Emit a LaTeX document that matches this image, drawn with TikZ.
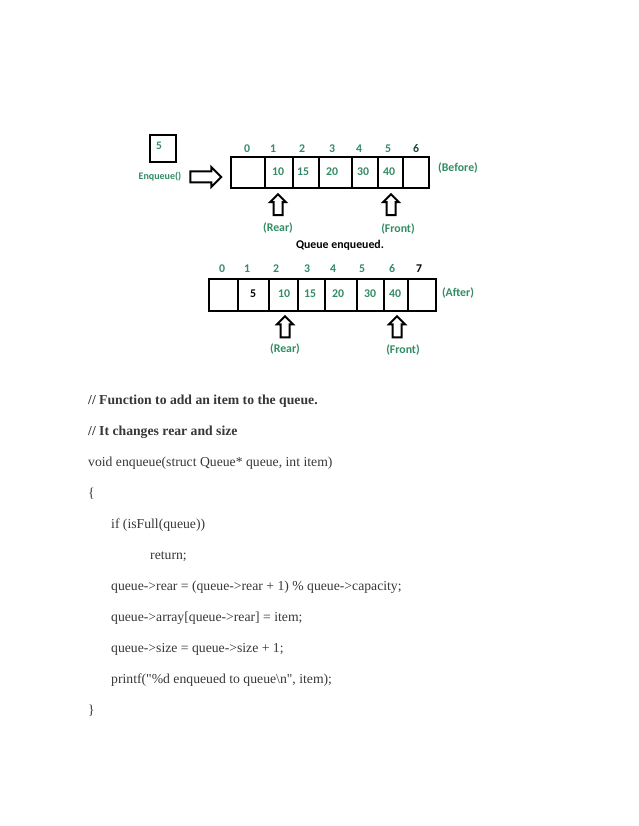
\documentclass[tikz,border=0pt]{standalone}
\usepackage{fontspec}
\setmainfont{Liberation Serif}[Ligatures=TeXOff]
\newfontfamily\diagfont{Carlito}
\usepackage{xcolor}
\usetikzlibrary{shapes.arrows, positioning}
\definecolor{qgreen}{RGB}{50,140,100}
\definecolor{codegray}{RGB}{55,55,55}

\begin{document}
\begin{tikzpicture}[
    x=1pt, y=-1pt,
    cell/.style={rectangle, draw=black, line width=2.8pt, inner sep=0pt},
    lbl/.style={font=\diagfont\fontsize{11.8}{13}\selectfont\bfseries, text=qgreen, inner sep=0pt},
    blk/.style={single arrow, draw=black, line width=2pt, fill=white, inner xsep=0pt, minimum height=21pt},
    uparr/.style={blk, inner sep=3.5pt, single arrow head extend=3.5pt, shape border rotate=90},
    code/.style={font=\fontsize{13.7}{16}\selectfont, text=codegray, anchor=base west, inner sep=0pt}
]
\useasboundingbox (0,0) rectangle (638,826);

% item to insert
\node[cell, minimum width=26pt, minimum height=27pt] (item) at (163,148.5) {};
\node[lbl, font=\diagfont\fontsize{11.5}{12}\selectfont\bfseries] (itemval) at (159,146) {5};
\node[lbl, font=\diagfont\fontsize{10}{12}\selectfont\bfseries] (enq) at (160,177) {Enqueue()};
\node[blk, inner ysep=4.5pt, single arrow head extend=4.5pt, minimum height=31pt] (push) at (203,177) {};

% queue before
\foreach \l/\r [count=\i from 0] in {231/265, 265/293, 293/319, 319/352, 352/378, 378/403, 403/429}
    \node[cell, minimum width=\r-\l, minimum height=31pt] (b\i) at ({(\l+\r)/2},172.5) {};
\foreach \x/\t [count=\i from 0] in {247/0, 273/1, 302/2, 332/3, 359/4, 388/5}
    \node[lbl] (bi\i) at (\x,149) {\t};
\node[lbl, text=qgreen!55!black] (bi6) at (416,149) {6};
\foreach \x/\t in {278/10, 303/15, 332/20, 363/30, 389/40}
    \node[lbl] (bv\t) at (\x,172) {\t};
\node[lbl] (before) at (458,168) {(Before)};

\node[uparr] (brear) at (278,207) {};
\node[uparr] (bfront) at (391,207) {};
\node[lbl] (brearl) at (278,228) {(Rear)};
\node[lbl] (bfrontl) at (398,229) {(Front)};

\node[lbl, text=black] (title) at (340,245) {Queue enqueued.};

% queue after
\foreach \l/\r [count=\i from 0] in {209/238, 238/269, 269/298, 298/325, 325/357, 357/384, 384/408, 408/436}
    \node[cell, minimum width=\r-\l, minimum height=32pt] (a\i) at ({(\l+\r)/2},295) {};
\foreach \x/\t [count=\i from 0] in {222/0, 247/1, 276/2, 307/3, 333/4, 362/5, 392/6}
    \node[lbl] (ai\i) at (\x,269) {\t};
\node[lbl, text=black] (ai7) at (419,269) {7};
\node[lbl, text=black] (av5) at (253,294) {5};
\foreach \x/\t in {284/10, 310/15, 338/20, 370/30, 395/40}
    \node[lbl] (av\t) at (\x,294) {\t};
\node[lbl] (after) at (458,293) {(After)};

\node[uparr] (arear) at (285,329) {};
\node[uparr] (afront) at (397,329) {};
\node[lbl] (arearl) at (285,349) {(Rear)};
\node[lbl] (afrontl) at (403,350) {(Front)};

% code listing
\node[code, font=\fontsize{13.7}{16}\selectfont\bfseries] (c1) at (88,404) {// Function to add an item to the queue.};
\node[code, font=\fontsize{13.7}{16}\selectfont\bfseries] (c2) at (88,435) {// It changes rear and size};
\node[code] (c3) at (88,466) {void enqueue(struct Queue* queue, int item)};
\node[code] (c4) at (88,497) {\{};
\node[code] (c5) at (111,528) {if (isFull(queue))};
\node[code] (c6) at (150,559) {return;};
\node[code] (c7) at (111,590) {queue->rear = (queue->rear + 1) \% queue->capacity;};
\node[code] (c8) at (111,621) {queue->array[queue->rear] = item;};
\node[code] (c9) at (111,652) {queue->size = queue->size + 1;};
\node[code] (c10) at (111,683) {printf("\%d enqueued to queue\textbackslash n", item);};
\node[code] (c11) at (88,714) {\}};

\end{tikzpicture}
\end{document}
